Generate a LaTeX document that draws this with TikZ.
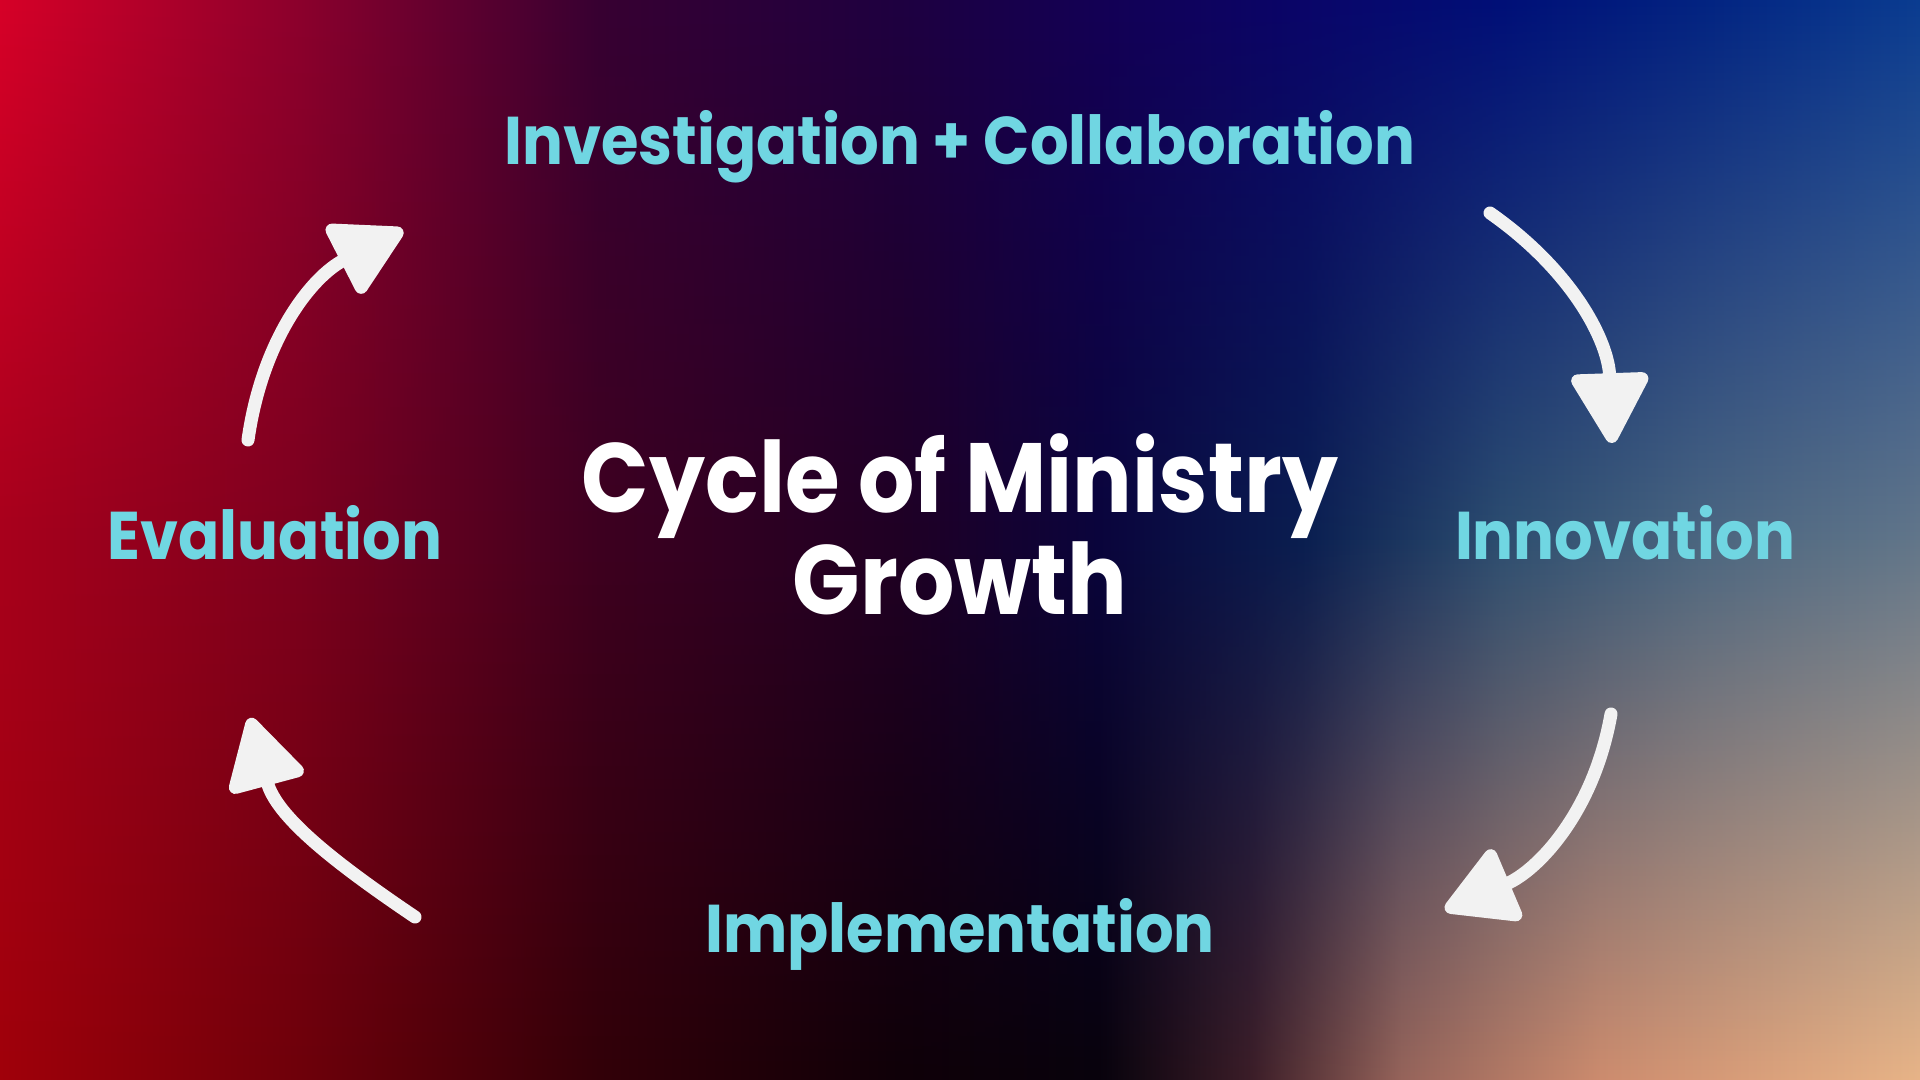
\documentclass[tikz,border=0pt]{standalone}
\usepackage{fontspec}
\setmainfont{Poppins}
\newfontfamily\cyclefont{Poppins}[FakeStretch=0.90]
\usetikzlibrary{arrows.meta,fadings}

\definecolor{stagecyan}{RGB}{112,214,226}
\definecolor{arrowwhite}{RGB}{242,242,242}

\definecolor{m0}{RGB}{168,0,28}\definecolor{m1}{RGB}{125,0,30}\definecolor{m2}{RGB}{62,0,32}
\definecolor{m3}{RGB}{32,0,36}\definecolor{m4}{RGB}{10,5,60}\definecolor{m5}{RGB}{10,30,80}
\definecolor{m6}{RGB}{45,78,112}\definecolor{m7}{RGB}{75,102,128}\definecolor{m8}{RGB}{98,118,138}

\definecolor{t0}{RGB}{215,0,40}\definecolor{t1}{RGB}{140,0,45}\definecolor{t2}{RGB}{55,0,50}
\definecolor{t3}{RGB}{30,0,65}\definecolor{t4}{RGB}{20,0,85}\definecolor{t5}{RGB}{10,5,105}
\definecolor{t6}{RGB}{0,15,120}\definecolor{t7}{RGB}{2,35,130}\definecolor{t8}{RGB}{10,60,145}

\definecolor{b0}{RGB}{160,0,10}\definecolor{b1}{RGB}{110,0,10}\definecolor{b2}{RGB}{50,0,8}
\definecolor{b3}{RGB}{15,0,8}\definecolor{b4}{RGB}{8,2,12}\definecolor{b5}{RGB}{60,30,40}
\definecolor{b6}{RGB}{150,100,90}\definecolor{b7}{RGB}{205,140,110}\definecolor{b8}{RGB}{232,180,135}

\pgfdeclarehorizontalshading{midrow}{100bp}{color(0bp)=(m0); color(25bp)=(m0); color(32.8bp)=(m1); color(40.6bp)=(m2); color(48.4bp)=(m3); color(53.6bp)=(m4); color(58.9bp)=(m5); color(64.1bp)=(m6); color(69.3bp)=(m7); color(75bp)=(m8); color(100bp)=(m8)}
\pgfdeclarehorizontalshading{toprow}{100bp}{color(0bp)=(t0); color(25bp)=(t0); color(32.8bp)=(t1); color(40.6bp)=(t2); color(48.4bp)=(t3); color(53.6bp)=(t4); color(58.9bp)=(t5); color(64.1bp)=(t6); color(69.3bp)=(t7); color(75bp)=(t8); color(100bp)=(t8)}
\pgfdeclarehorizontalshading{botrow}{100bp}{color(0bp)=(b0); color(25bp)=(b0); color(32.8bp)=(b1); color(40.6bp)=(b2); color(48.4bp)=(b3); color(53.6bp)=(b4); color(57.6bp)=(b5); color(61.5bp)=(b6); color(66.7bp)=(b7); color(75bp)=(b8); color(100bp)=(b8)}

\begin{document}
\begin{tikzpicture}
            \useasboundingbox (0,0) rectangle (19.2,10.8);
            \shade[shading=midrow] (0,0) rectangle (19.2,10.8);
            \shade[shading=toprow, path fading=south] (0,5.4) rectangle (19.2,10.8);
            \shade[shading=botrow, path fading=north] (0,0) rectangle (19.2,5.4);

            \tikzset{stage/.style={anchor=base, text=stagecyan, font=\cyclefont\bfseries\fontsize{19.2pt}{23pt}\selectfont}};
            \tikzset{cycarrow/.style={draw=arrowwhite, line width=3.7pt, line cap=round,
                -{Triangle[length=0.77cm, width=0.83cm, round, fill=arrowwhite]}}};

            \node[anchor=base, text=white, align=center,
                font=\cyclefont\bfseries\fontsize{28pt}{29.2pt}\selectfont] (title) at (9.6,4.65) {Cycle of Ministry\\Growth};
            \node[stage] (inv) at (9.6,9.15) {Investigation + Collaboration};
            \node[stage] (inn) at (16.25,5.20) {Innovation};
            \node[stage] (imp) at (9.6,1.27) {Implementation};
            \node[stage] (eva) at (2.75,5.20) {Evaluation};

            \coordinate (a1s) at (14.90,8.67);
            \coordinate (a1e) at (16.12,6.37);
            \coordinate (a2s) at (16.11,3.66);
            \coordinate (a2e) at (14.45,1.70);
            \coordinate (a3s) at (4.15,1.63);
            \coordinate (a3e) at (2.50,3.62);
            \coordinate (a4s) at (2.48,6.40);
            \coordinate (a4e) at (4.03,8.50);

            \draw[cycarrow] (a1s) to[out=-35, in=92] (a1e);
            \draw[cycarrow] (a2s) to[out=-100, in=23] (a2e);
            \draw[cycarrow] (a3s) to[out=146, in=-75] (a3e);
            \draw[cycarrow] (a4s) to[out=82, in=-153] (a4e);
\end{tikzpicture}
\end{document}
